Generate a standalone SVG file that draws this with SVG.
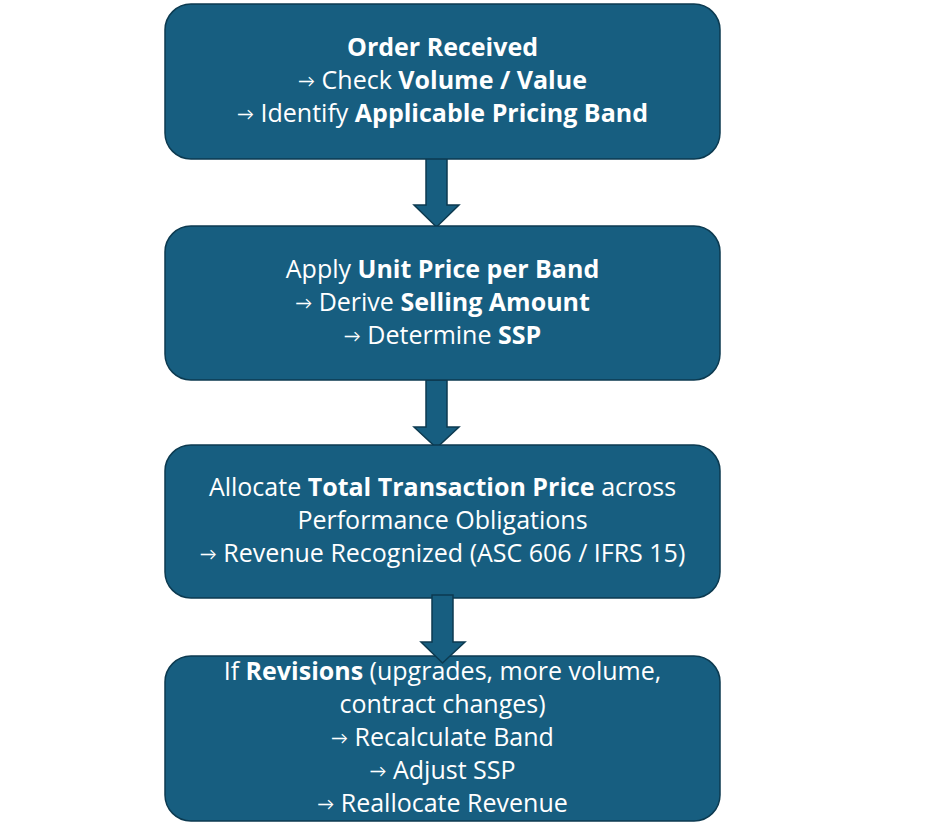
<svg xmlns="http://www.w3.org/2000/svg" width="936" height="825" viewBox="0 0 936 825">
<style>
.box{fill:#175e80;stroke:#0c3a50;stroke-width:1.5}
.arr{fill:#175e80;stroke:#0c3a50;stroke-width:1.5;stroke-linejoin:miter}
text{font-family:"Open Sans","Liberation Sans",sans-serif;font-size:25px;fill:#ffffff;text-anchor:middle}
.b{font-weight:bold}
tspan.a{font-family:"Lato",sans-serif;font-size:17px}
</style>
<rect width="936" height="825" fill="#ffffff"/>
<g id="connectors">
<polygon class="arr" points="426,158 447,158 447,205 459,205 436.5,227 414,205 426,205"/>
<polygon class="arr" points="426,380 447,380 447,427 459,427 436.5,448 414,427 426,427"/>
</g>
<g id="n1">
<rect class="box" x="165" y="4" width="555" height="155" rx="26"/>
<text x="442.5" y="56"><tspan class="b">Order Received</tspan></text>
<text x="442.5" y="89"><tspan class="a" dy="-2">→</tspan><tspan dy="2"> Check </tspan><tspan class="b">Volume / Value</tspan></text>
<text x="442.5" y="122"><tspan class="a" dy="-2">→</tspan><tspan dy="2"> Identify </tspan><tspan class="b">Applicable Pricing Band</tspan></text>
</g>
<g id="n2">
<rect class="box" x="165" y="226" width="555" height="154" rx="26"/>
<text x="442.5" y="278">Apply <tspan class="b">Unit Price per Band</tspan></text>
<text x="442.5" y="311"><tspan class="a" dy="-2">→</tspan><tspan dy="2"> Derive </tspan><tspan class="b">Selling Amount</tspan></text>
<text x="442.5" y="344"><tspan class="a" dy="-2">→</tspan><tspan dy="2"> Determine </tspan><tspan class="b">SSP</tspan></text>
</g>
<g id="n3">
<rect class="box" x="165" y="445" width="555" height="153" rx="26"/>
<text x="442.5" y="496">Allocate <tspan class="b">Total Transaction Price</tspan> across</text>
<text x="442.5" y="529">Performance Obligations</text>
<text x="442.5" y="562"><tspan class="a" dy="-2">→</tspan><tspan dy="2"> Revenue Recognized (ASC 606 / IFRS 15)</tspan></text>
</g>
<g id="n4">
<rect class="box" x="165" y="656" width="555" height="165" rx="26"/>
<text x="442.5" y="680">If <tspan class="b">Revisions</tspan> (upgrades, more volume,</text>
<text x="442.5" y="713">contract changes)</text>
<text x="442.5" y="746"><tspan class="a" dy="-2">→</tspan><tspan dy="2"> Recalculate Band</tspan></text>
<text x="442.5" y="779"><tspan class="a" dy="-2">→</tspan><tspan dy="2"> Adjust SSP</tspan></text>
<text x="442.5" y="812"><tspan class="a" dy="-2">→</tspan><tspan dy="2"> Reallocate Revenue</tspan></text>
</g>
<g id="connector3">
<polygon class="arr" points="432,595 453,595 453,642 465,642 442.5,663 421,642 432,642"/>
</g>
</svg>
